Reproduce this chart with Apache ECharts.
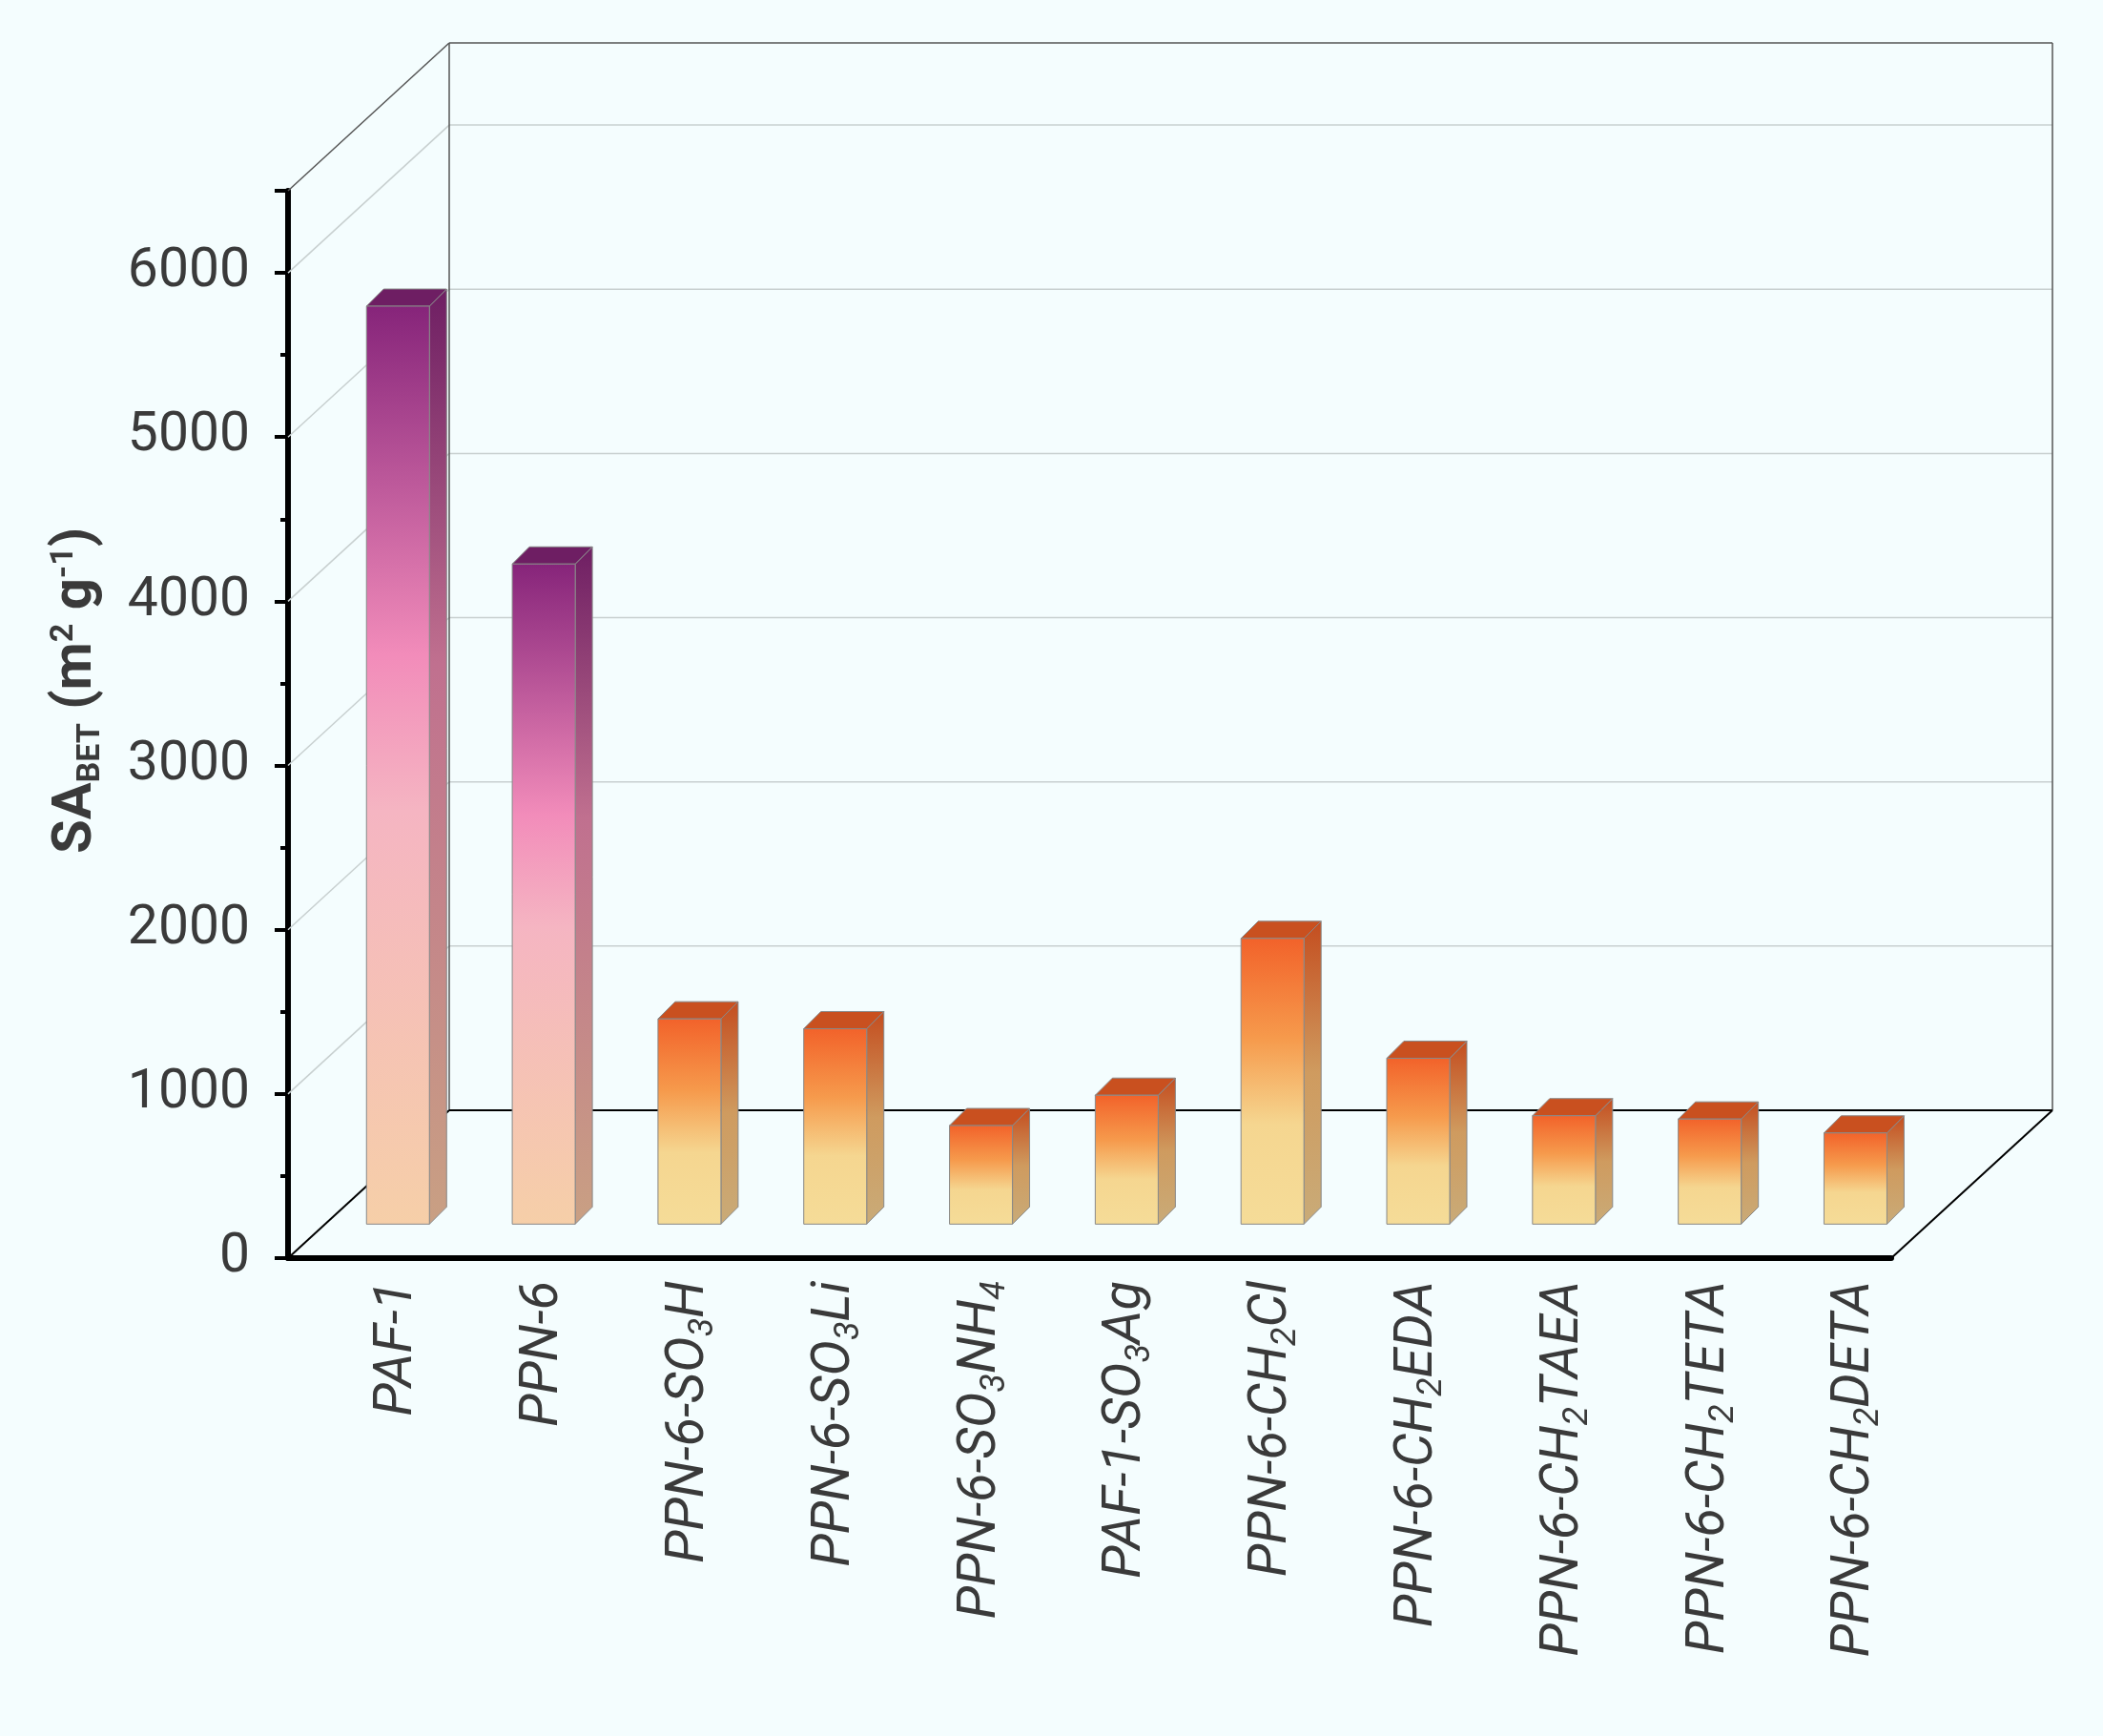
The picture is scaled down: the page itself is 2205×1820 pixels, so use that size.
<!DOCTYPE html>
<html><head><meta charset="utf-8">
<script src="https://cdn.jsdelivr.net/npm/echarts@6/dist/echarts.min.js"></script>
<style>html,body{margin:0;background:#f4fdfe}#c{width:2205px;height:1820px}</style>
</head><body><div id="c"></div>
<script>
const categories = ['PAF-1','PPN-6','PPN-6-SO{s|3}H','PPN-6-SO{s|3}Li','PPN-6-SO{s|3}NH{s|4}','PAF-1-SO{s|3}Ag','PPN-6-CH{s|2}Cl','PPN-6-CH{s|2}EDA','PPN-6-CH{s|2}TAEA','PPN-6-CH{s|2}TETA','PPN-6-CH{s|2}DETA'];
const values = [5590, 4020, 1250, 1190, 600, 785, 1740, 1010, 660, 640, 555];
const purpleSet = [0, 1];
const gridValues = [1000, 2000, 3000, 4000, 5000, 6000];

const DX = 169, DY = -155;
const BD = 0.23;
const BW = 66, SD = 18;

function grad(purple){
  if (purple) return {type:'linear',x:0,y:0,x2:0,y2:1,colorStops:[
    {offset:0,color:'#86247a'},{offset:0.38,color:'#f28cba'},{offset:0.55,color:'#f5b5c2'},{offset:1,color:'#f6cfa8'}]};
  return {type:'linear',x:0,y:0,x2:0,y2:1,colorStops:[
    {offset:0,color:'#f2622a'},{offset:0.35,color:'#f69a4c'},{offset:0.65,color:'#f5d690'},{offset:1,color:'#f5dc98'}]};
}
function sideGrad(purple){
  if (purple) return {type:'linear',x:0,y:0,x2:0,y2:1,colorStops:[
    {offset:0,color:'#6e1e63'},{offset:0.4,color:'#c0708f'},{offset:1,color:'#c9a083'}]};
  return {type:'linear',x:0,y:0,x2:0,y2:1,colorStops:[
    {offset:0,color:'#c44d1f'},{offset:0.5,color:'#cf9b5f'},{offset:1,color:'#c9ab78'}]};
}

const chart = echarts.init(document.getElementById('c'));
chart.setOption({
  backgroundColor:'#f4fdfe',
  animation:false,
  grid:{left:302, top:200, right:222, bottom:501},
  xAxis:{type:'category', data:categories, axisLine:{lineStyle:{color:'#000',width:6}},
    axisTick:{show:false}, axisLabel:{show:false}, splitLine:{show:false}},
  yAxis:{type:'value', min:0, max:6500, interval:1000,
    axisLine:{show:true,lineStyle:{color:'#000',width:6}},
    axisTick:{show:true,length:14,lineStyle:{width:4,color:'#000'}},
    minorTick:{show:true,splitNumber:2,length:8,lineStyle:{width:4,color:'#000'}},
    axisLabel:{fontSize:57,color:'#3a3a3a',margin:40,fontFamily:'Roboto',
      formatter:v=> v>6000?'':String(v)},
    splitLine:{show:false}},
  graphic:[{type:'text', x:80, y:724, rotation:Math.PI/2,
    style:{text:'SA{b|BET} (m{p|2} g{p|-1})', fill:'#3a3a3a', font:'bold 58px Roboto',
      align:'center', verticalAlign:'middle',
      rich:{b:{fontSize:34,fontWeight:'bold',fontFamily:'Roboto',fill:'#3a3a3a',padding:[30,0,0,0]},
            p:{fontSize:34,fontWeight:'bold',fontFamily:'Roboto',fill:'#3a3a3a',padding:[0,0,26,0]}}}}],
  series:[
    {type:'custom', data:[[0,0]], z:1, renderItem:function(params, api){
      const cs = params.coordSys;
      const x0 = cs.x, x1 = cs.x+cs.width, yTop = cs.y, y0 = api.coord([0,0])[1];
      const ch = [];
      const L = (a,b,c,d,col,w)=>ch.push({type:'line',shape:{x1:a,y1:b,x2:c,y2:d},style:{stroke:col,lineWidth:w}});
      gridValues.forEach(v=>{
        const y = api.coord([0,v])[1];
        L(x0+DX,y+DY,x1+DX,y+DY,'#c8d0d0',1.5);
        L(x0,y,x0+DX,y+DY,'#c8d0d0',1.5);
      });
      L(x0+DX,yTop+DY,x1+DX,yTop+DY,'#555',1.5);
      L(x0,yTop,x0+DX,yTop+DY,'#555',1.5);
      L(x0+DX,yTop+DY,x0+DX,y0+DY,'#555',1.5);
      L(x1+DX,yTop+DY,x1+DX,y0+DY,'#555',1.5);
      L(x0+DX,y0+DY,x1+DX,y0+DY,'#000',2);
      L(x0,y0,x0+DX,y0+DY,'#000',2);
      L(x1,y0,x1+DX,y0+DY,'#000',2);
      return {type:'group',children:ch};
    }},
    {type:'custom', data:values.map((v,i)=>[i,v]), z:3, renderItem:function(params, api){
      const i = api.value(0), v = api.value(1);
      const top = api.coord([i,v]), bot = api.coord([i,0]);
      const purple = purpleSet.indexOf(i) >= 0;
      const cx = top[0] + BD*DX, yt = top[1] + BD*DY, yb = bot[1] + BD*DY;
      const xl = cx - BW/2, xr = cx + BW/2;
      const edge = '#888';
      const ch = [
        {type:'polygon',shape:{points:[[xr,yt],[xr+SD,yt-SD],[xr+SD,yb-SD],[xr,yb]]},
          style:{fill:sideGrad(purple),stroke:edge,lineWidth:1}},
        {type:'polygon',shape:{points:[[xl,yt],[xl+SD,yt-SD],[xr+SD,yt-SD],[xr,yt]]},
          style:{fill:purple?'#6e1e63':'#c9501f',stroke:edge,lineWidth:1}},
        {type:'rect',shape:{x:xl,y:yt,width:BW,height:yb-yt},
          style:{fill:grad(purple),stroke:edge,lineWidth:1}},
        {type:'text',x:cx, y:bot[1]+24, rotation:Math.PI/2,
          style:{text:categories[i], fill:'#3a3a3a', font:'italic 56px Roboto',
            align:'right', verticalAlign:'middle',
            rich:{s:{fontSize:36,fontStyle:'italic',fontFamily:'Roboto',fill:'#3a3a3a',padding:[30,0,0,0]}}}}
      ];
      return {type:'group',children:ch};
    }}
  ]
});
</script></body></html>
